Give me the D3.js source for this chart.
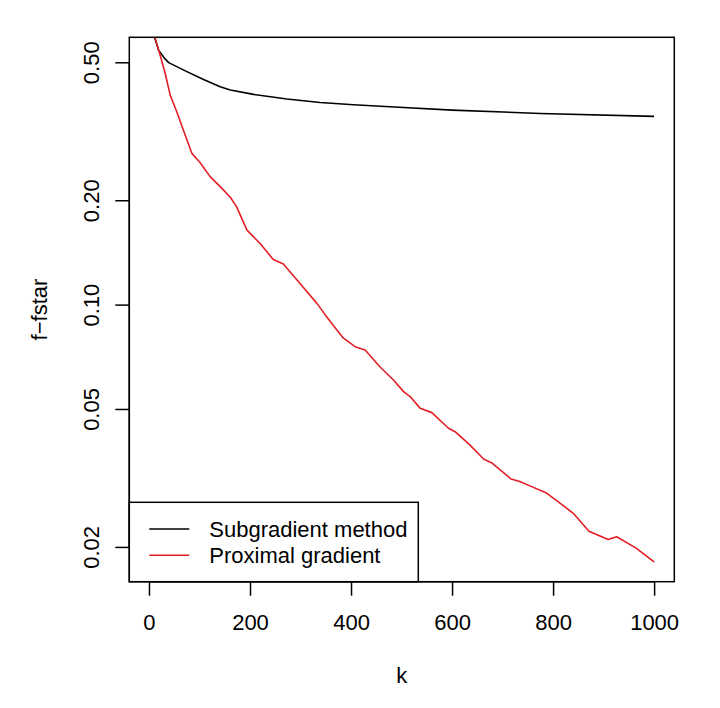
<!DOCTYPE html>
<html>
<head>
<meta charset="utf-8">
<script src="https://cdn.jsdelivr.net/npm/d3@7"></script>
<style>
body{margin:0;background:#fff;}
text{font-family:"Liberation Sans",Arial,Helvetica,sans-serif;}
</style>
</head>
<body>
<div id="chart"></div>
<script>
//1. データ
//劣勾配法 (k, f-fstar)
let subK=[1,11,19,30,39,75,108,141,161,207,273,339,405,495,600,775,1000];
let subF=[0.68,0.59,0.542,0.515,0.499,0.470,0.446,0.425,0.416,0.404,0.392,0.383,0.377,0.371,0.364,0.356,0.349];
//近接勾配法 (k, f-fstar)
let proxK=[1,12,22,32,42,55,68,85,101,121,141,161,173,194,220,246,266,299,332,349,372,385,408,428,457,484,504,517,537,560,593,606,635,663,678,717,734,754,787,813,840,871,909,926,965,1000];
let proxF=[0.68,0.590,0.525,0.465,0.402,0.360,0.319,0.273,0.257,0.234,0.219,0.204,0.192,0.164,0.150,0.135,0.131,0.115,0.101,0.0934,0.0845,0.0800,0.0756,0.0740,0.0662,0.0606,0.0561,0.0543,0.0502,0.0488,0.0440,0.0430,0.0394,0.0358,0.0350,0.0314,0.0309,0.0300,0.0286,0.0268,0.0250,0.0222,0.0210,0.0214,0.0198,0.0181];
//目盛り
let xTicks=[0,200,400,600,800,1000];
let yTicks=[0.02,0.05,0.10,0.20,0.50];
let seriesNames=["Subgradient method","Proximal gradient"];
let seriesColors=["#000000","#e31f26"];
let xLim=[1,1000];
let yLim=[0.01815,0.5163];

//2. 描画
let width=720, height=708;
let box={left:129.3,top:37.3,right:674.3,bottom:581.7};
let fontSize=22;

//Rと同じく範囲を4%広げる
function extendLinear(lim){
	let d=(lim[1]-lim[0])*0.04;
	return [lim[0]-d,lim[1]+d];
}
function extendLog(lim){
	let a=Math.log10(lim[0]), b=Math.log10(lim[1]);
	let d=(b-a)*0.04;
	return [Math.pow(10,a-d),Math.pow(10,b+d)];
}

let x=d3.scaleLinear().domain(extendLinear(xLim)).range([box.left,box.right]);
let y=d3.scaleLog().domain(extendLog(yLim)).range([box.bottom,box.top]);

let svg=d3.select("#chart").append("svg")
	.attr("width",width)
	.attr("height",height)
	.attr("xmlns","http://www.w3.org/2000/svg");

svg.append("defs").append("clipPath")
	.attr("id","plotclip")
	.append("rect")
	.attr("x",box.left)
	.attr("y",box.top)
	.attr("width",box.right-box.left)
	.attr("height",box.bottom-box.top);

function makeSeries(ks,fs){
	return ks.map(function(k,i){return {k:k,f:fs[i]};});
}

let line=d3.line()
	.x(function(d){return x(d.k);})
	.y(function(d){return y(d.f);});

let series=[makeSeries(subK,subF),makeSeries(proxK,proxF)];

svg.append("g")
	.attr("clip-path","url(#plotclip)")
	.selectAll("path")
	.data(series)
	.enter()
	.append("path")
	.attr("d",line)
	.attr("fill","none")
	.attr("stroke",function(d,i){return seriesColors[i];})
	.attr("stroke-width",1.6)
	.attr("stroke-linejoin","round");

//軸
let xAxis=d3.axisBottom(x)
	.tickValues(xTicks)
	.tickSize(14)
	.tickPadding(0)
	.tickFormat(d3.format("d"));
let gx=svg.append("g")
	.attr("transform","translate(0,"+box.bottom+")")
	.call(xAxis);
gx.select(".domain")
	.attr("d","M"+x(xTicks[0])+",0H"+x(xTicks[xTicks.length-1]));
gx.selectAll(".tick text")
	.attr("y",48)
	.attr("dy",null)
	.attr("font-size",fontSize)
	.attr("font-family",null)
	.attr("fill","#000");

let yAxis=d3.axisLeft(y)
	.tickValues(yTicks)
	.tickSize(14)
	.tickFormat(d3.format(".2f"));
let gy=svg.append("g")
	.attr("transform","translate("+box.left+",0)")
	.call(yAxis);
gy.select(".domain")
	.attr("d","M0,"+y(yTicks[0])+"V"+y(yTicks[yTicks.length-1]));
gy.selectAll(".tick text")
	.attr("x",null)
	.attr("dy",null)
	.attr("transform","translate(-30,0) rotate(-90)")
	.attr("text-anchor","middle")
	.attr("font-size",fontSize)
	.attr("font-family",null)
	.attr("fill","#000");

svg.selectAll(".domain, .tick line")
	.attr("stroke","#000")
	.attr("stroke-width",1.5);

//枠
svg.append("rect")
	.attr("x",box.left)
	.attr("y",box.top)
	.attr("width",box.right-box.left)
	.attr("height",box.bottom-box.top)
	.attr("fill","none")
	.attr("stroke","#000")
	.attr("stroke-width",1.5);

//軸ラベル
svg.append("text")
	.attr("x",(box.left+box.right)/2)
	.attr("y",683)
	.attr("text-anchor","middle")
	.attr("font-size",fontSize)
	.text("k");
svg.append("text")
	.attr("transform","translate(47,"+((box.top+box.bottom)/2)+") rotate(-90)")
	.attr("text-anchor","middle")
	.attr("font-size",fontSize)
	.text("f\u2212fstar");

//凡例
let legend=svg.append("g");
legend.append("rect")
	.attr("x",box.left)
	.attr("y",502.3)
	.attr("width",418.3-box.left)
	.attr("height",box.bottom-502.3)
	.attr("fill","#fff")
	.attr("stroke","#000")
	.attr("stroke-width",1.5);
let items=legend.selectAll(".item")
	.data(seriesNames)
	.enter()
	.append("g")
	.attr("class","item")
	.attr("transform",function(d,i){return "translate(0,"+(529+i*26.2)+")";});
items.append("line")
	.attr("x1",149.3)
	.attr("x2",189.3)
	.attr("stroke",function(d,i){return seriesColors[i];})
	.attr("stroke-width",1.6);
items.append("text")
	.attr("x",209.3)
	.attr("y",7.8)
	.attr("font-size",fontSize)
	.text(function(d){return d;});
</script>
</body>
</html>
